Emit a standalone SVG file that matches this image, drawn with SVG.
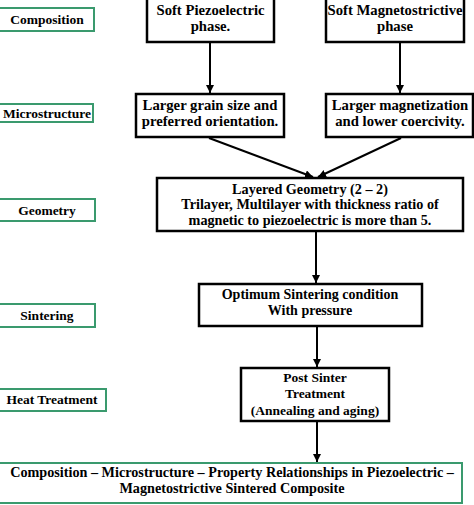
<svg xmlns="http://www.w3.org/2000/svg" width="474" height="505" viewBox="0 0 474 505">
<defs>
<style>
.lbl{fill:#fff;stroke:#3a9a6e;stroke-width:2}
.box{fill:#fff;stroke:#000;stroke-width:2.5}
text{font-family:"Liberation Serif","Times New Roman",serif;font-weight:bold;fill:#000;text-anchor:middle}
.t{font-size:13.5px}
.tm{font-size:14px}
.tl{font-size:14.2px}
.tb{font-size:14.7px}
.c{stroke:#000;stroke-width:2;fill:none;marker-end:url(#ah)}
</style>
<marker id="ah" markerUnits="userSpaceOnUse" markerWidth="10" markerHeight="10" refX="8" refY="4" orient="auto">
<path d="M0,0 L8,4 L0,8 Z" fill="#000"/>
</marker>
</defs>
<rect width="474" height="505" fill="#fff"/>
<g id="connectors">
<line class="c" x1="210" y1="42" x2="210" y2="93"/>
<line class="c" x1="400" y1="42" x2="400" y2="93"/>
<line class="c" x1="209" y1="138" x2="313" y2="177"/>
<line class="c" x1="401" y1="138" x2="318" y2="177"/>
<line class="c" x1="316" y1="231" x2="316" y2="283"/>
<line class="c" x1="317" y1="326" x2="317" y2="367"/>
<line class="c" x1="317" y1="421" x2="317" y2="462"/>
</g>
<g id="lbl-composition"><rect class="lbl" x="-2" y="8" width="96" height="23"/><text class="t" x="47" y="24">Composition</text></g>
<g id="lbl-microstructure"><rect class="lbl" x="-2" y="104" width="95" height="18"/><text class="t" x="47" y="118">Microstructure</text></g>
<g id="lbl-geometry"><rect class="lbl" x="-2" y="199" width="97" height="22"/><text class="t" x="47" y="215">Geometry</text></g>
<g id="lbl-sintering"><rect class="lbl" x="-2" y="304" width="97" height="23"/><text class="t" x="47" y="320">Sintering</text></g>
<g id="lbl-heat"><rect class="lbl" x="-2" y="389" width="108" height="22"/><text class="t" x="52" y="404">Heat Treatment</text></g>
<g id="n-piezo"><rect class="box" x="147" y="-3" width="127" height="45"/><text class="tb" x="210.5" y="15">Soft Piezoelectric</text><text class="tb" x="210.5" y="31">phase.</text></g>
<g id="n-magneto"><rect class="box" x="326" y="-3" width="138" height="45"/><text class="tb" x="395" y="15">Soft Magnetostrictive</text><text class="tb" x="395" y="31">phase</text></g>
<g id="n-grain"><rect class="box" x="136" y="94" width="148" height="43"/><text class="tb" x="210" y="110">Larger grain size and</text><text class="tb" x="210" y="126">preferred orientation.</text></g>
<g id="n-magnetization"><rect class="box" x="326" y="94" width="147" height="43"/><text class="tb" x="400" y="110">Larger magnetization</text><text class="tb" x="400" y="126">and lower coercivity.</text></g>
<g id="n-layered"><rect class="box" x="157" y="178" width="306" height="53"/><text class="tl" x="310" y="194">Layered Geometry (2 – 2)</text><text class="tl" x="310" y="209">Trilayer, Multilayer with thickness ratio of</text><text class="tl" x="310" y="225">magnetic to piezoelectric is more than 5.</text></g>
<g id="n-sinter"><rect class="box" x="199" y="284" width="223" height="42"/><text class="tm" x="310" y="299">Optimum Sintering condition</text><text class="tm" x="310" y="315">With pressure</text></g>
<g id="n-post"><rect class="box" x="241" y="368" width="148" height="53"/><text class="t" x="315" y="382">Post Sinter</text><text class="t" x="315" y="398">Treatment</text><text class="t" x="315" y="415">(Annealing and aging)</text></g>
<g id="n-result"><rect class="lbl" x="-2" y="463" width="464" height="40"/><text class="tl" x="232" y="477">Composition – Microstructure – Property Relationships in Piezoelectric –</text><text class="tl" x="232" y="493">Magnetostrictive Sintered Composite</text></g>
</svg>
